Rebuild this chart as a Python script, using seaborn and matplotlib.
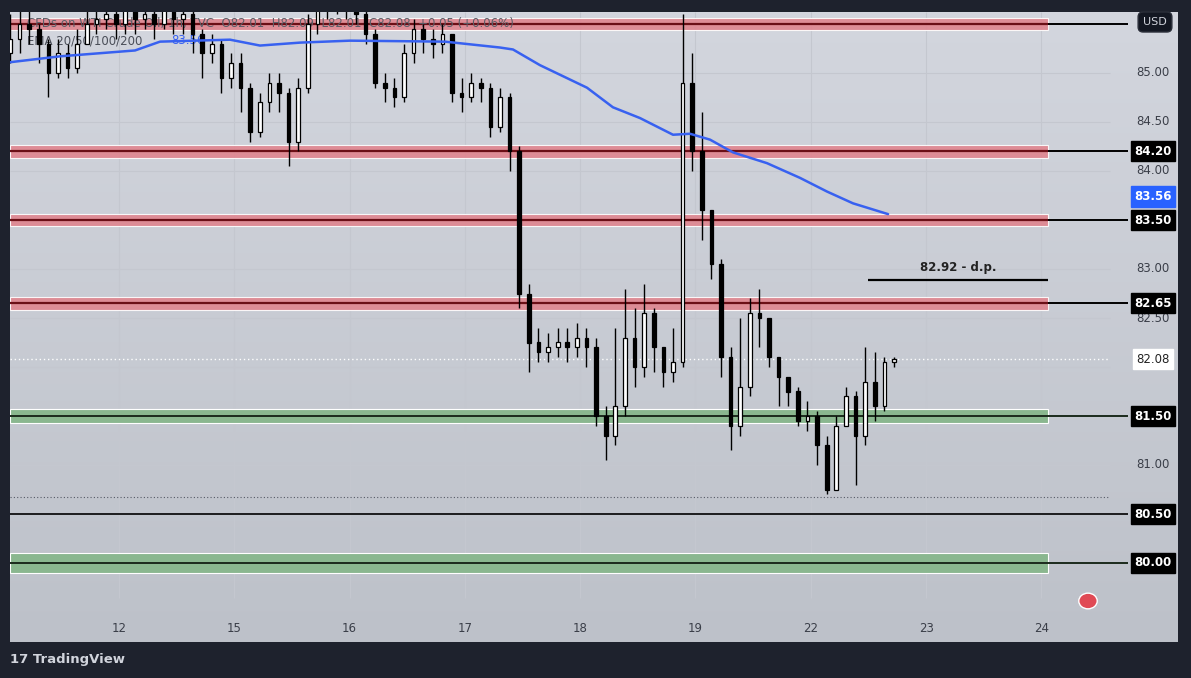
import numpy as np
import pandas as pd
import seaborn as sns
import matplotlib.pyplot as plt
from matplotlib.patches import Rectangle, Circle

# --- candles (2h bars, WTI CFD) ---
closes = [85.35, 85.5, 85.45, 85.3, 85.0, 85.2, 85.05, 85.3, 85.5, 85.55,
          85.6, 85.5, 85.65, 85.55, 85.6, 85.5, 85.65, 85.55, 85.6, 85.4,
          85.2, 85.3, 84.95, 85.1, 84.85, 84.4, 84.7, 84.9, 84.8, 84.3,
          84.85, 85.5, 85.65, 85.7, 85.75, 85.7, 85.6, 85.4, 84.9, 84.85,
          84.75, 85.2, 85.45, 85.35, 85.3, 85.4, 84.8, 84.75, 84.9, 84.85,
          84.45, 84.75, 84.2, 82.75, 82.25, 82.15, 82.2, 82.25, 82.2, 82.3,
          82.2, 81.5, 81.3, 81.6, 82.3, 82.0, 82.55, 82.2, 81.95, 82.05,
          84.9, 84.2, 83.6, 83.05, 82.1, 81.4, 81.8, 82.55, 82.5, 82.1,
          81.9, 81.75, 81.45, 81.5, 81.2, 80.75, 81.4, 81.7, 81.3, 81.85,
          81.6, 82.05, 82.08]
highs = [85.6, 85.7, 85.65, 85.5, 85.35, 85.35, 85.3, 85.45, 85.7, 85.7,
         85.75, 85.7, 85.8, 85.7, 85.75, 85.7, 85.8, 85.7, 85.75, 85.65,
         85.45, 85.4, 85.35, 85.2, 85.2, 84.9, 84.8, 85.0, 85.0, 84.85,
         84.95, 85.6, 85.8, 85.8, 85.85, 85.8, 85.75, 85.7, 85.45, 85.0,
         84.95, 85.3, 85.55, 85.5, 85.45, 85.5, 85.4, 84.95, 85.0, 84.95,
         84.9, 84.85, 84.8, 84.25, 82.85, 82.4, 82.35, 82.4, 82.4, 82.45,
         82.4, 82.3, 81.6, 82.4, 82.8, 82.6, 82.85, 82.6, 82.2, 82.4,
         85.6, 85.2, 84.6, 83.6, 83.1, 82.2, 82.5, 82.7, 82.8, 82.5,
         82.0, 81.9, 81.8, 81.65, 81.55, 81.3, 81.5, 81.8, 81.75, 82.2,
         82.15, 82.1, 82.1]
lows = [85.1, 85.2, 85.3, 85.1, 84.75, 84.95, 84.95, 85.0, 85.3, 85.4,
        85.45, 85.35, 85.4, 85.4, 85.45, 85.35, 85.45, 85.4, 85.4, 85.2,
        84.95, 85.1, 84.8, 84.85, 84.6, 84.3, 84.35, 84.6, 84.6, 84.05,
        84.2, 84.8, 85.4, 85.55, 85.6, 85.55, 85.5, 85.3, 84.85, 84.7,
        84.65, 84.7, 85.1, 85.2, 85.15, 85.2, 84.7, 84.6, 84.7, 84.7,
        84.35, 84.4, 84.0, 82.6, 81.95, 82.05, 82.05, 82.1, 82.05, 82.1,
        82.0, 81.4, 81.05, 81.2, 81.5, 81.8, 81.9, 81.95, 81.8, 81.85,
        82.0, 84.0, 83.3, 82.9, 81.9, 81.15, 81.3, 81.7, 82.2, 82.0,
        81.6, 81.6, 81.4, 81.35, 81.0, 80.7, 80.75, 81.4, 80.8, 81.2,
        81.45, 81.55, 82.0]
first_open = 85.2
bar_hours = 2

# --- EMA 200 (days from the "12" tick, value) ---
ema_x = [-0.945, -0.512, 0.139, 0.356, 0.963, 1.223, 1.570, 2.003, 2.827,
         3.304, 3.417, 3.651, 4.059, 4.284, 4.519, 4.805, 4.952, 5.126,
         5.325, 5.620, 5.906, 6.141, 6.366, 6.670]
ema_y = [85.11, 85.17, 85.23, 85.32, 85.34, 85.28, 85.31, 85.33, 85.32,
         85.26, 85.24, 85.08, 84.85, 84.65, 84.54, 84.37, 84.38, 84.32,
         84.19, 84.08, 83.93, 83.79, 83.67, 83.56]

# --- levels ---
red_levels = [85.50, 84.20, 83.50, 82.65]
green_levels = [81.50, 80.00]
green_halfwidth = [0.07, 0.10]
plain_levels = [80.50]
labelled_levels = [84.20, 83.50, 82.65, 81.50, 80.50, 80.00]
price_ticks = [85.00, 84.50, 84.00, 83.00, 82.50, 81.00]
last_price = 82.08
ema_last = 83.56
dp_level = 82.89
dp_text = "82.92 - d.p."
low_dotted = 80.67
date_labels = ["12", "15", "16", "17", "18", "19", "22", "23", "24"]

sns.set_theme(style="white")
plt.rcParams['font.family'] = ['DejaVu Sans']

W, H = 1191, 678
fig = plt.figure(figsize=(W / 100, H / 100), dpi=100, facecolor="#1e222d")
# panel: x 10..1178, y 12..642 (pixels)
ax = fig.add_axes([10 / W, 1 - 642 / H, 1168 / W, 630 / H])
ppd = 115.3  # pixels per day
x0 = -109 / ppd
x1 = (1178 - 119) / ppd
y_lo = 85 - (642 - 73) / 98
y_hi = 85 - (12 - 73) / 98
ax.set_xlim(x0, x1)
ax.set_ylim(y_lo, y_hi)
ax.axis("off")

grad = np.linspace(0, 1, 256).reshape(-1, 1)
ax.imshow(grad, extent=[x0, x1, y_lo, y_hi], aspect="auto", zorder=0,
          cmap=sns.blend_palette(["#d3d6de", "#bdc1c9"], as_cmap=True),
          origin="upper")

chart_right = (1110 - 119) / ppd
zone_right = (1048 - 119) / ppd
line_right = (1128 - 119) / ppd
for i in range(len(date_labels)):
    ax.vlines(i, y_lo + 0.45, y_hi, color="#c4c7cf", lw=0.8, zorder=1)
for p in price_ticks + [80.5, 85.5, 83.5, 82.0, 80.0, 84.2]:
    ax.hlines(p, x0, chart_right, color="#c4c7cf", lw=0.8, zorder=1)

# zones
for lv in red_levels:
    ax.add_patch(Rectangle((x0, lv - 0.065), zone_right - x0, 0.13,
                           fc="#e0858f", ec="white", lw=0.8, alpha=0.9, zorder=2))
    ax.hlines(lv, x0, zone_right, color="#6b0f16", lw=1.6, zorder=2.1)
    ax.hlines(lv, zone_right, line_right, color="black", lw=1.4, zorder=2.1)
for lv, hw in zip(green_levels, green_halfwidth):
    ax.add_patch(Rectangle((x0, lv - hw), zone_right - x0, 2 * hw,
                           fc="#8ab78f", ec="white", lw=0.8, zorder=2))
    ax.hlines(lv, x0, line_right, color="#1b2a1c", lw=1.4, zorder=2.1)
for lv in plain_levels:
    ax.hlines(lv, x0, line_right, color="black", lw=1.2, zorder=2.1)

ax.hlines(last_price, x0, chart_right, color="white", lw=1, ls=(0, (1, 2)), zorder=2)
ax.hlines(low_dotted, x0, chart_right, color="#555a66", lw=0.8, ls=(0, (1, 2)), zorder=2)

# d.p. line
dp_l, dp_r = (868 - 119) / ppd, zone_right
ax.hlines(dp_level, dp_l, dp_r, color="black", lw=1.6, zorder=3)
ax.text((dp_l + dp_r) / 2, dp_level + 0.06, dp_text, ha="center", va="bottom",
        fontsize=8.5, fontweight="bold", color="#222", zorder=3)

# candles
df = pd.DataFrame({"close": closes, "high": highs, "low": lows})
df["open"] = [first_open] + closes[:-1]
step = bar_hours / 24
df["x"] = x0 + np.arange(len(df)) * step
up = df["close"] >= df["open"]
ax.vlines(df["x"], df["low"], df["high"], color="black", lw=1, zorder=4)
body_lo = df[["open", "close"]].min(axis=1)
body_h = (df["close"] - df["open"]).abs().clip(lower=0.02)
ax.bar(df["x"][up], body_h[up], bottom=body_lo[up], width=step * 0.38,
       color="white", edgecolor="black", lw=0.9, zorder=5)
ax.bar(df["x"][~up], body_h[~up], bottom=body_lo[~up], width=step * 0.38,
       color="black", edgecolor="black", lw=0.9, zorder=5)

# EMA
sns.lineplot(x=ema_x, y=ema_y, ax=ax, color="#3861f0", lw=1.8, zorder=6)

# header text
ax.text(x0 + 0.15, 85.5, "CFDs on WTI Crude Oil, 1h, TVC  O82.01  H82.09  L82.01  C82.08  +0.05 (+0.06%)",
        fontsize=8.5, color="#5a5e68", va="center", zorder=3.5)
ax.text(x0 + 0.15, 85.33, "EMA 20/50/100/200", fontsize=8.5, color="#4a4e58",
        va="center", zorder=3.5)
ax.text(x0 + 1.4, 85.33, "83.56", fontsize=8.5, color="#3861f0", va="center", zorder=3.5)

# price axis
lab_x = (1153 - 119) / ppd
for p in price_ticks:
    ax.text(lab_x, p, f"{p:.2f}", ha="center", va="center", fontsize=8.5, color="#3a3e48")
for p in labelled_levels:
    ax.text(lab_x, p, f"{p:.2f}", ha="center", va="center", fontsize=8.5,
            fontweight="bold", color="white",
            bbox=dict(boxstyle="square,pad=0.3", fc="black", ec="black"))
ax.text(lab_x, ema_last + 0.18, f"{ema_last:.2f}", ha="center", va="center", fontsize=8.5,
        fontweight="bold", color="white",
        bbox=dict(boxstyle="square,pad=0.3", fc="#2962ff", ec="#2962ff"))
ax.text(lab_x, last_price, f"{last_price:.2f}", ha="center", va="center", fontsize=8.5,
        color="#222", bbox=dict(boxstyle="square,pad=0.3", fc="white", ec="white"))

# date labels
for i, lab in enumerate(date_labels):
    ax.text(i, 85 - (628 - 73) / 98, lab, ha="center", va="center", fontsize=8.5, color="#3a3e48")

# USD badge and flag
fig.text(1155 / W, 1 - 22 / H, "USD", ha="center", va="center", fontsize=8, color="#d1d4dc",
         bbox=dict(boxstyle="round,pad=0.45", fc="#131722", ec="#2a2e39"))
ax.add_patch(Circle(((1088 - 119) / ppd, 85 - (601 - 73) / 98), 0.08, fc="#e04a55",
                    ec="white", lw=1, zorder=6))
fig.text(10 / W, 1 - 660 / H, "17 TradingView", fontsize=9.5, color="#d1d4dc",
         va="center", fontweight="bold")

fig.savefig("out.png", dpi=100, facecolor=fig.get_facecolor())
